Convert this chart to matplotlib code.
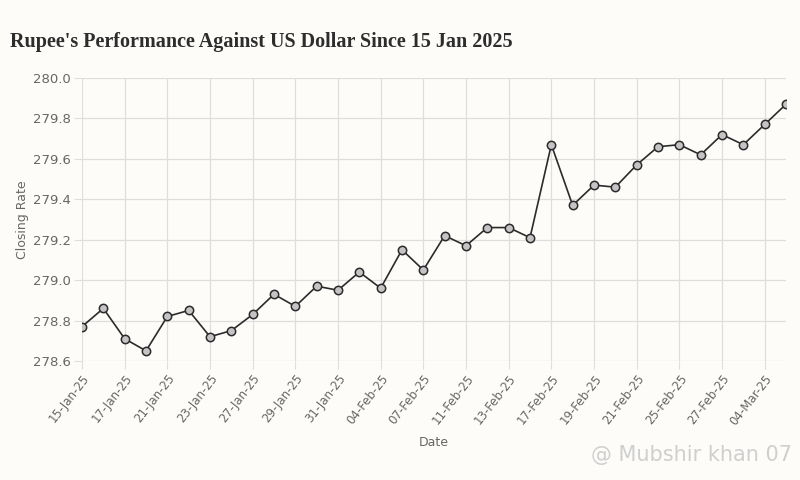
import matplotlib
matplotlib.use('Agg')
import matplotlib.pyplot as plt

dates = [
    '15-Jan-25', '16-Jan-25', '17-Jan-25', '20-Jan-25', '21-Jan-25', '22-Jan-25',
    '23-Jan-25', '24-Jan-25', '27-Jan-25', '28-Jan-25', '29-Jan-25', '30-Jan-25',
    '31-Jan-25', '03-Feb-25', '04-Feb-25', '06-Feb-25', '07-Feb-25', '10-Feb-25',
    '11-Feb-25', '12-Feb-25', '13-Feb-25', '14-Feb-25', '17-Feb-25', '18-Feb-25',
    '19-Feb-25', '20-Feb-25', '21-Feb-25', '24-Feb-25', '25-Feb-25', '26-Feb-25',
    '27-Feb-25', '28-Feb-25', '04-Mar-25', '05-Mar-25',
]
closing = [
    278.77, 278.86, 278.71, 278.65, 278.82, 278.85, 278.72, 278.75, 278.83, 278.93,
    278.87, 278.97, 278.95, 279.04, 278.96, 279.15, 279.05, 279.22, 279.17, 279.26,
    279.26, 279.21, 279.67, 279.37, 279.47, 279.46, 279.57, 279.66, 279.67, 279.62,
    279.72, 279.67, 279.77, 279.87,
]
yticks = [278.6, 278.8, 279.0, 279.2, 279.4, 279.6, 279.8, 280.0]

bg = '#fdfcf9'
fig = plt.figure(figsize=(8, 4.8), dpi=100, facecolor=bg)
ax = fig.add_axes([0.1025, 0.248, 0.88, 0.5895], facecolor=bg)

x = list(range(len(closing)))
ax.plot(x, closing, color='#2b2b2b', linewidth=1.2,
        marker='o', markersize=6, markerfacecolor='#c4c4c4',
        markeredgecolor='#2b2b2b', markeredgewidth=1.1, zorder=3)

ax.set_xlim(0, len(closing) - 1)
ax.set_ylim(278.6, 280.0)
ax.set_yticks(yticks)
ax.set_yticklabels([f'{v:.1f}' for v in yticks])
ax.set_xticks(x[::2])
ax.set_xticklabels(dates[::2], rotation=52, ha='right', rotation_mode='anchor')

ax.grid(True, color='#dedede', linewidth=0.9)
ax.set_axisbelow(True)
for s in ax.spines.values():
    s.set_visible(False)
ax.tick_params(axis='both', length=6, color='#dedede', labelcolor='#666666')
ax.tick_params(axis='y', labelsize=9.5, pad=2)
ax.tick_params(axis='x', labelsize=8.5, pad=2)

ax.set_ylabel('Closing Rate', color='#666666', fontsize=9, labelpad=3)
ax.set_xlabel('Date', color='#666666', fontsize=9, labelpad=6)

fig.text(0.0125, 0.912, "Rupee's Performance Against US Dollar Since 15 Jan 2025",
         family='Liberation Serif', fontweight='bold', fontsize=14.5, color='#2d2d2d',
         va='center', ha='left')

fig.text(0.99, 0.052, '@ Mubshir khan 07', color='#cfcfcf', fontsize=15,
         ha='right', va='center')

plt.savefig('out.png', dpi=100, facecolor=bg)
